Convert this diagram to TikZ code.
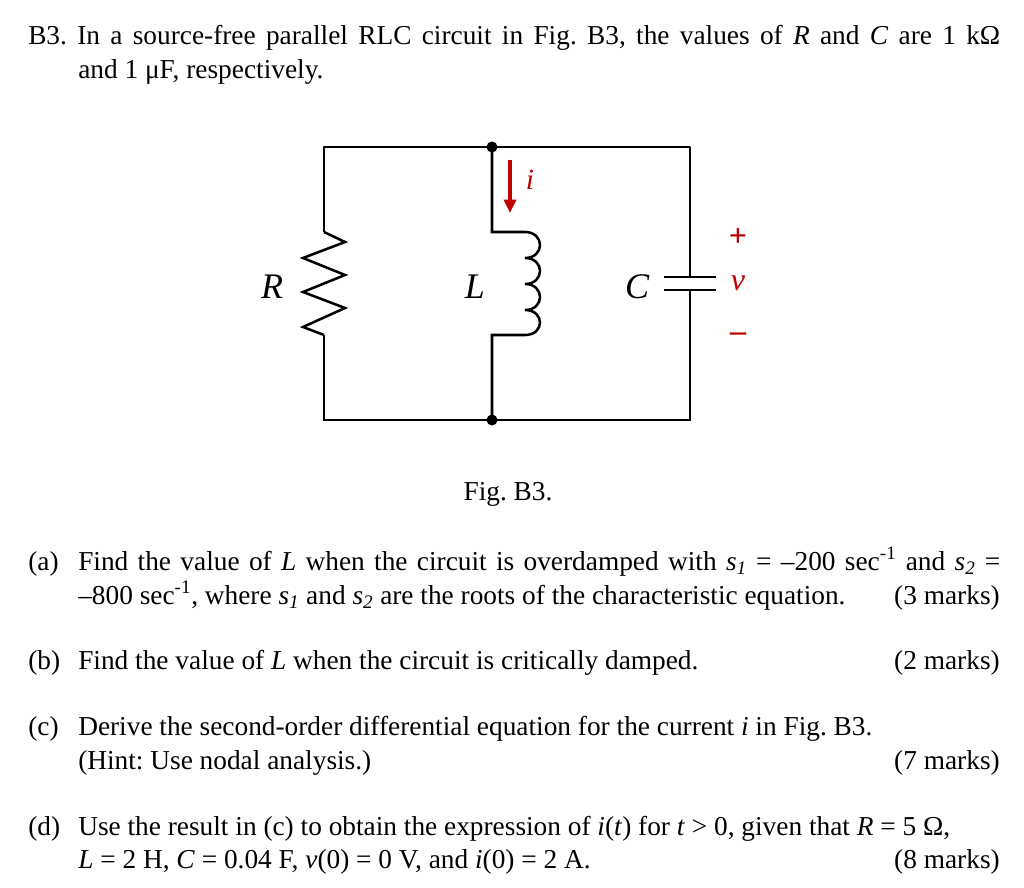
\documentclass[tikz,border=0pt]{standalone}
\usepackage{fontspec}
\setmainfont{Liberation Serif}
\usetikzlibrary{arrows.meta}
\definecolor{dred}{RGB}{192,0,0}
\frenchspacing
\begin{document}
\begin{tikzpicture}[x=0.75pt,y=-0.75pt,
  txt/.style={anchor=base west,inner sep=0pt,font=\fontsize{20.5}{23}\selectfont},
  mk/.style={anchor=base east,inner sep=0pt,font=\fontsize{20.5}{23}\selectfont},
  wire/.style={line width=1.9pt},
  lbl/.style={inner sep=0pt,font=\fontsize{27}{29}\selectfont\itshape},
  red/.style={dred,inner sep=0pt}]
\useasboundingbox (0,0) rectangle (1024,888);
\coordinate (tl) at (324,147); \coordinate (tm) at (492,147); \coordinate (tr) at (690,147);
\coordinate (bl) at (324,420); \coordinate (bm) at (492,420); \coordinate (br) at (690,420);
\coordinate (ra) at (324,232); \coordinate (rb) at (324,335);
\coordinate (la) at (492,232); \coordinate (lb) at (492,335);
\coordinate (ca) at (690,277); \coordinate (cb) at (690,290);
\draw[wire,line join=round] (ra) -- (tl) -- (tr) -- (ca);
\draw[wire] (cb) -- (br) -- (bl) -- (rb);
\draw[wire] (tm) -- (la) -- (525,232)
  .. controls (545,232) and (545,258) .. (525,258)
  .. controls (545,258) and (545,284) .. (525,284)
  .. controls (545,284) and (545,310) .. (525,310)
  .. controls (545,310) and (545,335) .. (525,335) -- (lb) -- (bm);
\draw[wire,line join=miter] (ra) -- (345,242) -- (303,258) -- (345,275) -- (303,292) -- (345,308) -- (303,327) -- (rb);
\draw[wire] (664,277) -- (716,277);
\draw[wire] (664,290) -- (716,290);
\fill (tm) circle (5.5); \fill (bm) circle (5.5);
\node[lbl] (R) at (272,287) {R};
\node[lbl] (L) at (475,287) {L};
\node[lbl] (C) at (637,287) {C};
\coordinate (ia) at (510,160); \coordinate (ib) at (510,213);
\draw[dred,line width=2.4pt,-{Triangle[length=10pt,width=9pt]}] (ia) -- (ib);
\node[red,font=\fontsize{22}{24}\selectfont\itshape] (i) at (530,180) {i};
\node[red,font=\fontsize{24}{26}\selectfont\bfseries] (p) at (738,237) {+};
\node[red,font=\fontsize{24}{26}\selectfont\itshape] (v) at (738,283) {v};
\node[red,font=\fontsize{24}{26}\selectfont\bfseries] (m) at (738,337) {–};
\node[txt] (t1) at (28,45) {\makebox[729pt][s]{B3. In a source-free parallel RLC circuit in Fig. B3, the values of \textit{R} and \textit{C} are 1 kΩ}};
\node[txt] (t2) at (78,79) {and 1 μF, respectively.};
\node[txt,anchor=base] (fig) at (508,500) {Fig. B3.};
\node[txt] (a) at (28,570) {(a)};
\node[txt] (a1) at (78,570) {\makebox[691.5pt][s]{Find the value of \textit{L} when the circuit is overdamped with \textit{s\textsubscript{1}} = –200 sec\textsuperscript{-1} and \textit{s\textsubscript{2}} =}};
\node[txt] (a2) at (78,604) {–800 sec\textsuperscript{-1}, where \textit{s\textsubscript{1}} and \textit{s\textsubscript{2}} are the roots of the characteristic equation.};
\node[mk] (am) at (1000,604) {(3 marks)};
\node[txt] (b) at (28,669) {(b)};
\node[txt] (b1) at (78,669) {Find the value of \textit{L} when the circuit is critically damped.};
\node[mk] (bm2) at (1000,669) {(2 marks)};
\node[txt] (c) at (28,735) {(c)};
\node[txt] (c1) at (78,735) {Derive the second-order differential equation for the current \textit{i} in Fig. B3.};
\node[txt] (c2) at (78,769) {(Hint: Use nodal analysis.)};
\node[mk] (cm) at (1000,769) {(7 marks)};
\node[txt] (d) at (28,835) {(d)};
\node[txt] (d1) at (78,835) {Use the result in (c) to obtain the expression of \textit{i}(\textit{t}) for \textit{t} > 0, given that \textit{R} = 5 Ω,};
\node[txt] (d2) at (78,868) {\textit{L} = 2 H, \textit{C} = 0.04 F, \textit{v}(0) = 0 V, and \textit{i}(0) = 2 A.};
\node[mk] (dm) at (1000,868) {(8 marks)};
\end{tikzpicture}
\end{document}
